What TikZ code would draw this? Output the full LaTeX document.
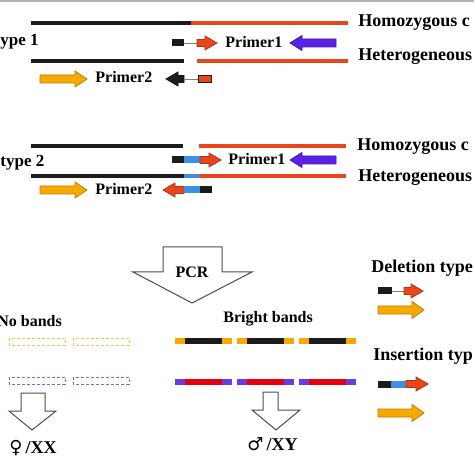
\documentclass[tikz,border=0pt]{standalone}
\usepackage{fontspec}
\setmainfont{Liberation Serif}
\newfontfamily\symfont{DejaVu Sans}

\definecolor{strandred}{HTML}{E8461C}
\definecolor{strandblack}{HTML}{1C1C1C}
\definecolor{primeryellow}{HTML}{F7A900}
\definecolor{primerblue}{HTML}{3D8FE8}
\definecolor{primerpurple}{HTML}{5A22E6}
\definecolor{bandred}{HTML}{E3000F}
\definecolor{bandpurple}{HTML}{6B3AE0}

\tikzset{
  strand/.style={line width=2pt},
  lbl/.style={font=\bfseries\fontsize{9}{10}\selectfont, inner sep=0pt, anchor=base west},
  plbl/.style={font=\bfseries\fontsize{8}{9}\selectfont, inner sep=0pt, anchor=base west},
  tick/.style={draw=gray, line width=0.4pt},
  nobox/.style={line width=0.4pt, dash pattern=on 1.5pt off 1pt},
  bigarrow/.style={draw=gray!60!black, fill=white, line width=0.5pt},
}

% block arrow: colour, tail x, tip x, y, half shaft, half head
\newcommand{\fatarrow}[6]{%
  \pgfmathsetmacro{\abase}{#3>#2 ? #3-12 : #3+12}
  \filldraw[fill=#1, draw=#1!75!black, line width=0.4pt]
    (#2,#4-#5) -- (\abase,#4-#5) -- (\abase,#4-#6) -- (#3,#4)
    -- (\abase,#4+#6) -- (\abase,#4+#5) -- (#2,#4+#5) -- cycle;}

\begin{document}
\begin{tikzpicture}[x=0.5pt, y=-0.5pt]
  \useasboundingbox (0,0) rectangle (474,474);
  \clip (0,0) rectangle (474,474);
  \fill[gray!60] (0,0) rectangle (474,2.5);

  % type 1
  \draw[strand, strandblack] (31,23) -- (191,23);
  \draw[strand, strandred] (191,23) -- (348,23);
  \draw[strand, strandblack] (31,61) -- (184,61);
  \draw[strand, strandred] (197,61) -- (348,61);
  \node[lbl, font=\bfseries\fontsize{8.5}{9}\selectfont] (type1) at (0,46) {ype 1};
  \node[lbl] (hom1) at (358,27) {Homozygous c};
  \node[lbl] (het1) at (358,61) {Heterogeneous};
  \fill[strandblack] (172,39.5) rectangle (184,46.5);
  \draw[tick] (184,43) -- (197,43);
  \fatarrow{strandred}{197}{217}{43}{3.5}{7}
  \node[plbl] (p1a) at (225,48) {Primer1};
  \fatarrow{primerpurple}{336}{290}{43}{4}{7.5}
  \fatarrow{primeryellow}{40}{87}{79}{4}{8}
  \node[plbl] (p2a) at (95,83) {Primer2};
  \fatarrow{strandblack}{184}{166}{79}{3.5}{7}
  \draw[tick] (184,79) -- (198,79);
  \filldraw[fill=strandred, draw=strandblack, line width=0.4pt] (198,75.5) rectangle (211,82.5);

  % type 2
  \draw[strand, strandblack] (31,146) -- (183,146);
  \draw[strand, strandred] (199,146) -- (346,146);
  \draw[strand, strandblack] (31,176) -- (184,176);
  \draw[strand, primerblue] (184,176) -- (199,176);
  \draw[strand, strandred] (199,176) -- (346,176);
  \node[lbl, font=\bfseries\fontsize{8.5}{9}\selectfont] (type2) at (0,167) {type 2};
  \node[lbl] (hom2) at (357,151) {Homozygous c};
  \node[lbl] (het2) at (358,182) {Heterogeneous};
  \fill[strandblack] (172,156.5) rectangle (184,163.5);
  \fill[primerblue] (184,156.5) rectangle (200,163.5);
  \fatarrow{strandred}{200}{221}{160}{3.5}{7}
  \node[plbl] (p1b) at (228,165) {Primer1};
  \fatarrow{primerpurple}{336}{290}{160}{4}{7.5}
  \fatarrow{primeryellow}{40}{87}{190}{4}{8}
  \node[plbl] (p2b) at (95,195) {Primer2};
  \fatarrow{strandred}{184}{163}{190}{3.5}{7}
  \fill[primerblue] (184,186.5) rectangle (200,193.5);
  \fill[strandblack] (200,186.5) rectangle (212,193.5);

  % PCR
  \draw[bigarrow] (163,247) -- (222,247) -- (222,272) -- (252,272) -- (192,303)
    -- (133,272) -- (163,272) -- cycle;
  \node[plbl, anchor=base] (pcr) at (192,278) {PCR};

  % bands
  \node[plbl] (noband) at (-3,326) {No bands};
  \node[plbl] (bright) at (223,322) {Bright bands};
  \foreach \x in {9,73} {
    \draw[nobox, primeryellow!70] (\x,338) rectangle (\x+56,345);
    \draw[nobox, bandpurple!80] (\x,377) rectangle (\x+56,384);
  }
  \foreach \x in {175,237,299} {
    \fill[primeryellow] (\x,338) rectangle (\x+57,344);
    \fill[strandblack] (\x+10,338) rectangle (\x+47,344);
    \fill[bandpurple] (\x,379) rectangle (\x+57,385);
    \fill[bandred] (\x+10,379) rectangle (\x+47,385);
  }

  % results
  \draw[bigarrow] (21,393) -- (45,393) -- (45,411) -- (56,411) -- (32,430)
    -- (9,411) -- (21,411) -- cycle;
  \node[lbl, anchor=base west] (female) at (9,453) {{\symfont ♀}\,/XX};
  \draw[bigarrow] (263,392) -- (278,392) -- (278,410) -- (300,410) -- (276,430)
    -- (252,410) -- (263,410) -- cycle;
  \node[lbl, anchor=base west] (male) at (247,450) {{\symfont ♂}\,/XY};

  % legend
  \node[lbl] (deltype) at (371,273) {Deletion type};
  \fill[strandblack] (378,287.5) rectangle (392,294.5);
  \draw[tick] (392,291) -- (404,291);
  \fatarrow{strandred}{404}{423}{291}{3.5}{7}
  \fatarrow{primeryellow}{378}{424}{310}{4}{8.5}
  \node[lbl] (instype) at (373,360) {Insertion typ};
  \fill[strandblack] (378,380.5) rectangle (391,387.5);
  \fill[primerblue] (391,380.5) rectangle (406,387.5);
  \fatarrow{strandred}{406}{428}{384}{3.5}{7}
  \fatarrow{primeryellow}{378}{424}{413}{4}{8.5}
\end{tikzpicture}
\end{document}
